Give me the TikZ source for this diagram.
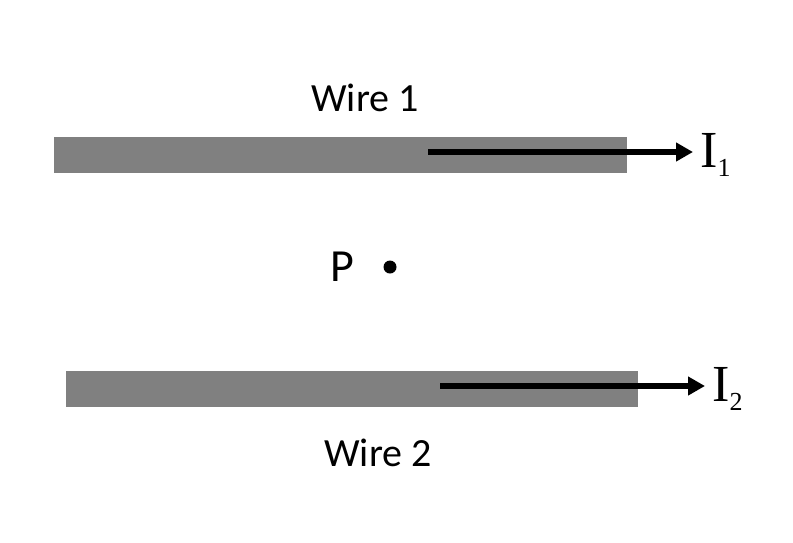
\documentclass[tikz,border=0pt]{standalone}
\usepackage{fontspec}
\setmainfont{Carlito}
\newfontfamily\serifont{Liberation Serif}
\usetikzlibrary{arrows.meta}
\begin{document}
\begin{tikzpicture}[x=1pt,y=-1pt,
  wire/.style={fill=black!50,draw=none},
  cur/.style={line width=6pt,-{Triangle[length=17pt,width=18pt]}},
  lab/.style={font=\fontsize{40}{44}\selectfont},
  ilab/.style={font=\serifont\fontsize{52}{56}\selectfont}]
\useasboundingbox (0,0) rectangle (793,542);
\fill[wire] (54,137) rectangle (627,173);
\fill[wire] (66,371) rectangle (638,407);
\coordinate (a1) at (428,152); \coordinate (b1) at (693,152);
\coordinate (a2) at (440,386); \coordinate (b2) at (705,386);
\draw[cur] (a1) -- (b1);
\draw[cur] (a2) -- (b2);
\node[ilab,anchor=west,inner sep=0pt] (i1) at (700,155) {I\raisebox{-0.35ex}{\fontsize{26}{28}\selectfont 1}};
\node[ilab,anchor=west,inner sep=0pt] (i2) at (712,389) {I\raisebox{-0.35ex}{\fontsize{26}{28}\selectfont 2}};
\node[lab] (w1) at (365,98) {Wire 1};
\node[lab] (w2) at (378,453) {Wire 2};
\node[font=\fontsize{46}{50}\selectfont] (p) at (342,267) {P};
\fill (390,267) circle (6.5);
\end{tikzpicture}
\end{document}
